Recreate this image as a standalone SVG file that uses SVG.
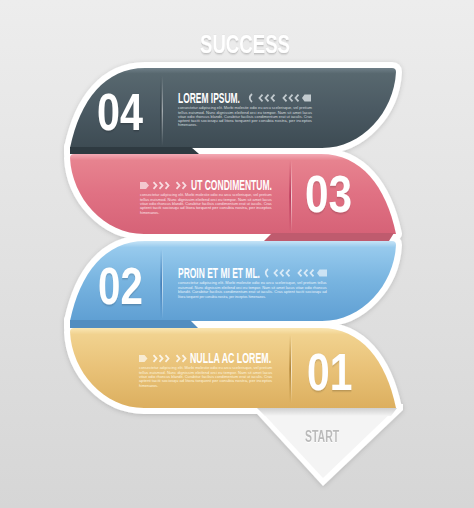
<svg xmlns="http://www.w3.org/2000/svg" xmlns:xlink="http://www.w3.org/1999/xlink" width="474" height="508" viewBox="0 0 474 508">
<defs>
<style>
.num{font-family:"Liberation Sans",Arial,sans-serif;font-weight:bold;font-size:51px;fill:#ffffff}
.hd{font-family:"Liberation Sans",Arial,sans-serif;font-weight:bold;font-size:14px;fill:#ffffff}
.bd{font-family:"Liberation Sans",Arial,sans-serif;font-size:4.4px}
.ttl{font-family:"Liberation Sans",Arial,sans-serif;font-weight:bold}
.chev{fill:none;stroke-width:1.8;stroke-linecap:butt;stroke-linejoin:miter}
.outline{fill:#ffffff;stroke:#ffffff;stroke-width:12;stroke-linejoin:round}
</style>
<linearGradient id="bg" x1="0" y1="0" x2="0" y2="1">
<stop offset="0" stop-color="#ededed"/>
<stop offset="1" stop-color="#d6d6d6"/>
</linearGradient>
<linearGradient id="gDark" x1="0" y1="0" x2="0" y2="1">
<stop offset="0" stop-color="#6f7f88"/>
<stop offset="0.07" stop-color="#58686f"/>
<stop offset="0.5" stop-color="#4b5a63"/>
<stop offset="1" stop-color="#3d4b53"/>
</linearGradient>
<linearGradient id="gPink" x1="0" y1="0" x2="0" y2="1">
<stop offset="0" stop-color="#f3aab5"/>
<stop offset="0.08" stop-color="#e7838f"/>
<stop offset="0.5" stop-color="#e07183"/>
<stop offset="1" stop-color="#d66277"/>
</linearGradient>
<linearGradient id="gBlue" x1="0" y1="0" x2="0" y2="1">
<stop offset="0" stop-color="#c6e4f7"/>
<stop offset="0.08" stop-color="#97caed"/>
<stop offset="0.5" stop-color="#78b4e0"/>
<stop offset="1" stop-color="#5f9fd3"/>
</linearGradient>
<linearGradient id="gYellow" x1="0" y1="0" x2="0" y2="1">
<stop offset="0" stop-color="#fae6b3"/>
<stop offset="0.08" stop-color="#f1d28f"/>
<stop offset="0.5" stop-color="#e9c278"/>
<stop offset="1" stop-color="#dcaf5f"/>
</linearGradient>
<linearGradient id="gFoldTop" x1="0" y1="0" x2="0" y2="1">
<stop offset="0" stop-color="#cfcfcf"/>
<stop offset="1" stop-color="#f4f4f4"/>
</linearGradient>
<linearGradient id="divDark" x1="0" y1="0" x2="0" y2="1">
<stop offset="0" stop-color="#1f2a30" stop-opacity="0"/>
<stop offset="0.5" stop-color="#1f2a30" stop-opacity="0.9"/>
<stop offset="1" stop-color="#1f2a30" stop-opacity="0"/>
</linearGradient>
<linearGradient id="divLight" x1="0" y1="0" x2="0" y2="1">
<stop offset="0" stop-color="#ffffff" stop-opacity="0"/>
<stop offset="0.5" stop-color="#ffffff" stop-opacity="0.7"/>
<stop offset="1" stop-color="#ffffff" stop-opacity="0"/>
</linearGradient>
<linearGradient id="divPink" x1="0" y1="0" x2="0" y2="1">
<stop offset="0" stop-color="#a81d45" stop-opacity="0"/>
<stop offset="0.5" stop-color="#a81d45" stop-opacity="0.9"/>
<stop offset="1" stop-color="#a81d45" stop-opacity="0"/>
</linearGradient>
<linearGradient id="divBlue" x1="0" y1="0" x2="0" y2="1">
<stop offset="0" stop-color="#2a66a8" stop-opacity="0"/>
<stop offset="0.5" stop-color="#2a66a8" stop-opacity="0.9"/>
<stop offset="1" stop-color="#2a66a8" stop-opacity="0"/>
</linearGradient>
<linearGradient id="divYellow" x1="0" y1="0" x2="0" y2="1">
<stop offset="0" stop-color="#9a6c1c" stop-opacity="0"/>
<stop offset="0.5" stop-color="#9a6c1c" stop-opacity="0.9"/>
<stop offset="1" stop-color="#9a6c1c" stop-opacity="0"/>
</linearGradient>
<filter id="shadow" x="-10%" y="-10%" width="120%" height="120%">
<feDropShadow dx="0" dy="1" stdDeviation="2.5" flood-color="#000000" flood-opacity="0.16"/>
</filter>
<filter id="txtShadow" x="-10%" y="-10%" width="120%" height="130%">
<feDropShadow dx="0" dy="1" stdDeviation="0.8" flood-color="#000000" flood-opacity="0.25"/>
</filter>
<filter id="emboss" x="-10%" y="-10%" width="120%" height="130%">
<feDropShadow dx="0" dy="1" stdDeviation="0.3" flood-color="#ffffff" flood-opacity="0.9"/>
</filter>
<path id="leaf" d="M 70,80 C 80,32 105,0 145,0 L 392,0 Q 396,0 396,4 C 394,44 362,80 322,80 Z"/>
<path id="chL" d="M 1.5,-3.3 L -1.5,0 L 1.5,3.3"/>
<path id="chR" d="M -1.5,-3.3 L 1.5,0 L -1.5,3.3"/>
</defs>

<rect x="0" y="0" width="474" height="508" fill="url(#bg)"/>

<text class="ttl" font-size="26" fill="#ffffff" transform="translate(200,53) scale(0.716,1)" filter="url(#txtShadow)">SUCCESS</text>

<g id="outline" filter="url(#shadow)">
<use xlink:href="#leaf" class="outline" transform="translate(0,68)"/>
<use xlink:href="#leaf" class="outline" transform="matrix(-1,0,0,1,466,154)"/>
<use xlink:href="#leaf" class="outline" transform="translate(0,241)"/>
<use xlink:href="#leaf" class="outline" transform="matrix(-1,0,0,1,466,328)"/>
<polygon class="outline" points="70,147 191,147 199,154 70,154"/>
<polygon class="outline" points="272,233 394,233 389,241 264,241"/>
<polygon class="outline" points="70,320 190,320 198,328 70,328"/>
<polygon fill="#ffffff" points="248,404 403,404 403,410 323,486"/>
</g>

<g id="start-arrow">
<polygon points="259,409 395,409 323,478" fill="#f4f4f4"/>
<polygon points="257,408 397,408 391,416 265,416" fill="url(#gFoldTop)"/>
<text class="ttl" font-size="16" fill="#bababa" transform="translate(305,442) scale(0.656,1)" filter="url(#emboss)">START</text>
</g>

<g id="step04">
<use xlink:href="#leaf" fill="url(#gDark)" transform="translate(0,68)"/>
<polygon points="70,147 191,147 199,154 70,154" fill="#2e3a41"/>
<rect x="160.5" y="76" width="1.2" height="70" fill="url(#divDark)"/>
<rect x="161.7" y="76" width="1" height="70" fill="url(#divLight)"/>
<text class="num" transform="translate(97,130) scale(0.81,1)" filter="url(#txtShadow)">04</text>
<text class="hd" transform="translate(178,103) scale(0.604,1)">LOREM IPSUM.</text>
<g class="chev" stroke="#dfe5e8" stroke-opacity="0.8">
<path d="M 252,94 Q 247.5,98 252,102"/>
<use xlink:href="#chL" transform="translate(261,98)"/>
<use xlink:href="#chL" transform="translate(267,98)"/>
<use xlink:href="#chL" transform="translate(273,98)"/>
<use xlink:href="#chL" transform="translate(285,98)"/>
<use xlink:href="#chL" transform="translate(291,98)"/>
<use xlink:href="#chL" transform="translate(297,98)"/>
</g>
<path d="M 302,98 L 304.5,94.5 L 311,94.5 L 311,101.5 L 304.5,101.5 Z" fill="#dfe5e8" fill-opacity="0.8"/>
<g class="bd" fill="#d4dbdf" transform="translate(178,0) scale(0.77,1)">
<text x="0" y="109.3" textLength="174" lengthAdjust="spacingAndGlyphs">consectetur adipiscing elit. Morbi molestie odio eu arcu scelerisque, vel pretium</text>
<text x="0" y="113.6" textLength="174" lengthAdjust="spacingAndGlyphs">tellus euismod. Nunc dignissim eleifend orci eu tempor. Nam sit amet lacus</text>
<text x="0" y="117.9" textLength="174" lengthAdjust="spacingAndGlyphs">vitae odio rhoncus blandit. Curabitur facilisis condimentum erat ut iaculis. Cras</text>
<text x="0" y="122.2" textLength="174" lengthAdjust="spacingAndGlyphs">aptent taciti sociosqu ad litora torquent per conubia nostra, per inceptos</text>
<text x="0" y="126.5" textLength="25" lengthAdjust="spacingAndGlyphs">himenaeos.</text>
</g>
</g>

<g id="step03">
<use xlink:href="#leaf" fill="url(#gPink)" transform="matrix(-1,0,0,1,466,154)"/>
<polygon points="272,233 394,233 389,241 264,241" fill="#bf5b6e"/>
<rect x="289.5" y="160" width="1.4" height="72" fill="url(#divPink)"/>
<rect x="290.9" y="160" width="1" height="72" fill="url(#divLight)"/>
<text class="num" transform="translate(305,212) scale(0.83,1)" filter="url(#txtShadow)">03</text>
<text class="hd" transform="translate(191,190) scale(0.609,1)">UT CONDIMENTUM.</text>
<path d="M 140,182 L 146,182 L 149,185.5 L 146,189 L 140,189 Z" fill="#ffffff" fill-opacity="0.6"/>
<g class="chev" stroke="#ffffff" stroke-opacity="0.75">
<use xlink:href="#chR" transform="translate(155,185.5)"/>
<use xlink:href="#chR" transform="translate(161,185.5)"/>
<use xlink:href="#chR" transform="translate(167,185.5)"/>
<use xlink:href="#chR" transform="translate(178,185.5)"/>
<use xlink:href="#chR" transform="translate(184,185.5)"/>
</g>
<g class="bd" fill="#fbe0e5" transform="translate(140,0) scale(0.77,1)">
<text x="0" y="196.5" textLength="171" lengthAdjust="spacingAndGlyphs">consectetur adipiscing elit. Morbi molestie odio eu arcu scelerisque, vel pretium</text>
<text x="0" y="200.8" textLength="171" lengthAdjust="spacingAndGlyphs">tellus euismod. Nunc dignissim eleifend orci eu tempor. Nam sit amet lacus</text>
<text x="0" y="205.1" textLength="171" lengthAdjust="spacingAndGlyphs">vitae odio rhoncus blandit. Curabitur facilisis condimentum erat ut iaculis. Cras</text>
<text x="0" y="209.4" textLength="171" lengthAdjust="spacingAndGlyphs">aptent taciti sociosqu ad litora torquent per conubia nostra, per inceptos</text>
<text x="0" y="213.7" textLength="25" lengthAdjust="spacingAndGlyphs">himenaeos.</text>
</g>
</g>

<g id="step02">
<use xlink:href="#leaf" fill="url(#gBlue)" transform="translate(0,241)"/>
<polygon points="70,320 190,320 198,328 70,328" fill="#528dc0"/>
<rect x="160.5" y="249" width="1.4" height="70" fill="url(#divBlue)"/>
<rect x="161.9" y="249" width="1" height="70" fill="url(#divLight)"/>
<text class="num" transform="translate(98,304) scale(0.79,1)" filter="url(#txtShadow)">02</text>
<text class="hd" transform="translate(178,278) scale(0.606,1)">PROIN ET MI ET ML.</text>
<g class="chev" stroke="#ffffff" stroke-opacity="0.7">
<path d="M 268,269 Q 263.5,273 268,277"/>
<use xlink:href="#chL" transform="translate(276,273)"/>
<use xlink:href="#chL" transform="translate(282,273)"/>
<use xlink:href="#chL" transform="translate(288,273)"/>
<use xlink:href="#chL" transform="translate(300,273)"/>
<use xlink:href="#chL" transform="translate(306,273)"/>
<use xlink:href="#chL" transform="translate(312,273)"/>
</g>
<path d="M 317,273 L 319.5,269.5 L 327,269.5 L 327,276.5 L 319.5,276.5 Z" fill="#ffffff" fill-opacity="0.6"/>
<g class="bd" fill="#e6f2fb" transform="translate(178,0) scale(0.77,1)">
<text x="0" y="284.5" textLength="193" lengthAdjust="spacingAndGlyphs">consectetur adipiscing elit. Morbi molestie odio eu arcu scelerisque, vel pretium tellus</text>
<text x="0" y="288.9" textLength="193" lengthAdjust="spacingAndGlyphs">euismod. Nunc dignissim eleifend orci eu tempor. Nam sit amet lacus vitae odio rhoncus</text>
<text x="0" y="293.3" textLength="193" lengthAdjust="spacingAndGlyphs">blandit. Curabitur facilisis condimentum erat ut iaculis. Cras aptent taciti sociosqu ad</text>
<text x="0" y="297.7" textLength="114" lengthAdjust="spacingAndGlyphs">litora torquent per conubia nostra, per inceptos himenaeos.</text>
</g>
</g>

<g id="step01">
<use xlink:href="#leaf" fill="url(#gYellow)" transform="matrix(-1,0,0,1,466,328)"/>
<rect x="289.5" y="335" width="1.4" height="68" fill="url(#divYellow)"/>
<rect x="290.9" y="335" width="1" height="68" fill="url(#divLight)"/>
<text class="num" transform="translate(307,390) scale(0.8,1)" filter="url(#txtShadow)">01</text>
<text class="hd" transform="translate(190,363) scale(0.631,1)">NULLA AC LOREM.</text>
<path d="M 139,355 L 144.5,355 L 147.5,358.5 L 144.5,362 L 139,362 Z" fill="#ffffff" fill-opacity="0.65"/>
<g class="chev" stroke="#ffffff" stroke-opacity="0.8">
<use xlink:href="#chR" transform="translate(155,358.5)"/>
<use xlink:href="#chR" transform="translate(161,358.5)"/>
<use xlink:href="#chR" transform="translate(167,358.5)"/>
<use xlink:href="#chR" transform="translate(178,358.5)"/>
<use xlink:href="#chR" transform="translate(184,358.5)"/>
</g>
<g class="bd" fill="#fdf3dc" transform="translate(139,0) scale(0.77,1)">
<text x="0" y="369.5" textLength="173" lengthAdjust="spacingAndGlyphs">consectetur adipiscing elit. Morbi molestie odio eu arcu scelerisque, vel pretium</text>
<text x="0" y="373.8" textLength="173" lengthAdjust="spacingAndGlyphs">tellus euismod. Nunc dignissim eleifend orci eu tempor. Nam sit amet lacus</text>
<text x="0" y="378.1" textLength="173" lengthAdjust="spacingAndGlyphs">vitae odio rhoncus blandit. Curabitur facilisis condimentum erat ut iaculis. Cras</text>
<text x="0" y="382.4" textLength="173" lengthAdjust="spacingAndGlyphs">aptent taciti sociosqu ad litora torquent per conubia nostra, per inceptos</text>
<text x="0" y="386.7" textLength="25" lengthAdjust="spacingAndGlyphs">himenaeos.</text>
</g>
</g>
</svg>
